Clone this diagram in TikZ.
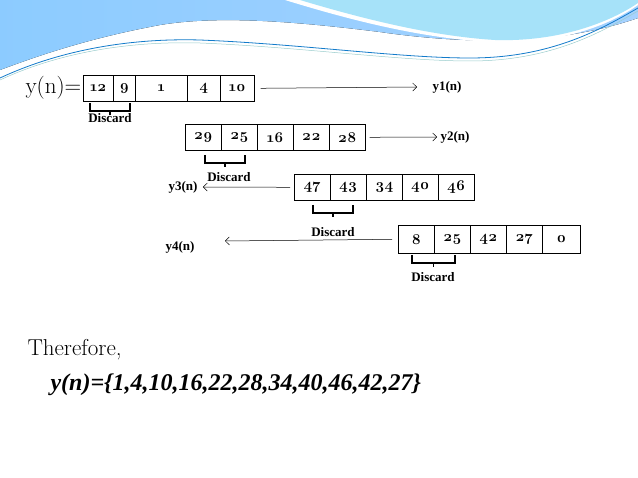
\documentclass[tikz,border=0pt]{standalone}
\usepackage{fontspec}
\usetikzlibrary{arrows.meta}
\setmainfont{Liberation Serif}
\newfontfamily\lm{Latin Modern Roman}
\newfontfamily\lmo[Numbers=OldStyle]{Latin Modern Roman}
\begin{document}
\begin{tikzpicture}[x=1pt,y=-1pt,
  cell/.style={draw,line width=0.6pt,minimum height=26pt,inner sep=0pt,anchor=north west,font=\lmo\bfseries\fontsize{15}{15}\selectfont},
  lbl/.style={font=\bfseries\fontsize{13}{14}\selectfont},
  arr/.style={-{Straight Barb[length=4pt]},line width=0.5pt},
  brc/.style={line width=1.6pt}]
\useasboundingbox (0,0) rectangle (638,478);
% header
\fill[left color=cyan!55!blue!45,right color=cyan!50!blue!35] (0,0)--(638,0)--(638,18) .. controls (560,45) and (470,45) .. (380,32) .. controls (300,22) and (220,15) .. (160,25) .. controls (90,38) and (40,55) .. (0,70)--cycle;
\fill[white] (285,0) .. controls (350,20) and (420,38) .. (490,42) .. controls (560,45) and (610,25) .. (638,5)--(638,0)--cycle;
\fill[cyan!35!white] (300,0) .. controls (360,18) and (430,36) .. (495,40) .. controls (560,42) and (610,22) .. (638,3)--(638,0)--cycle;
\draw[cyan!60!blue,line width=0.8pt] (0,78) .. controls (60,50) and (130,38) .. (200,40) .. controls (300,44) and (400,58) .. (470,58) .. controls (550,58) and (600,30) .. (638,8);
\draw[teal!40,line width=0.5pt] (0,80) .. controls (60,52) and (130,41) .. (200,43) .. controls (300,47) and (400,61) .. (470,61) .. controls (550,61) and (600,33) .. (638,11);
% row1
\node[anchor=west,font=\lm\fontsize{23}{24}\selectfont] (yn) at (22,88) {y(n)=};
\node[cell,minimum width=30pt] (a1) at (83,75) {12};
\node[cell,minimum width=22pt] (a2) at (113,75) {9};
\node[cell,minimum width=52pt] (a3) at (135,75) {1};
\node[cell,minimum width=33pt] (a4) at (187,75) {4};
\node[cell,minimum width=34pt] (a5) at (220,75) {10};
\node[lbl] (y1) at (447,87) {y1(n)};
\draw[arr] ([xshift=6pt]a5.east) -- ([xshift=-12pt]y1.west);
% row2
\foreach \n/\v [count=\i from 0] in {b1/29,b2/25,b3/16,b4/22,b5/28}
  \node[cell,minimum width=36pt] (\n) at (185+36*\i,124) {\v};
\node[lbl] (y2) at (455,137) {y2(n)};
\draw[arr] ([xshift=4pt]b5.east) -- (y2.west);
% row3
\foreach \n/\v [count=\i from 0] in {c1/47,c2/43,c3/34,c4/40,c5/46}
  \node[cell,minimum width=36pt] (\n) at (294+36*\i,174) {\v};
\node[lbl] (y3) at (183,187) {y3(n)};
\draw[arr] ([xshift=-4pt]c1.west) -- ([xshift=2pt]y3.east);
% row4
\foreach \n/\v/\w [count=\i from 0] in {d1/8/36,d2/25/36,d3/42/36,d4/27/36,d5/0/38}
  \node[cell,minimum width=\w pt,minimum height=28pt] (\n) at (398+36*\i,225) {\v};
\node[lbl] (y4) at (180,247) {y4(n)};
\coordinate (e4) at (225,241);
\draw[arr] ([xshift=-6pt]d1.west) -- (e4);
% braces & discard
\foreach \xa/\xb/\ya/\tx/\ty in {90/130/103/110/118, 205/245/155/229/177, 313/353/205/333/232, 412/455/255/433/277}{
  \draw[brc] (\xa,\ya) -- (\xa,\ya+8) -- (\xb,\ya+8) -- (\xb,\ya);
  \draw[brc] ({(\xa+\xb)/2},\ya+8) -- ({(\xa+\xb)/2},\ya+12);
  \node[lbl] at (\tx,\ty) {Discard};
}
\node[anchor=west,font=\lm\fontsize{23}{24}\selectfont] (th) at (24,350) {Therefore,};
\node[anchor=west,font=\bfseries\itshape\fontsize{24}{26}\selectfont] (res) at (47,385) {y(n)=\{1,4,10,16,22,28,34,40,46,42,27\}};
\end{tikzpicture}
\end{document}
